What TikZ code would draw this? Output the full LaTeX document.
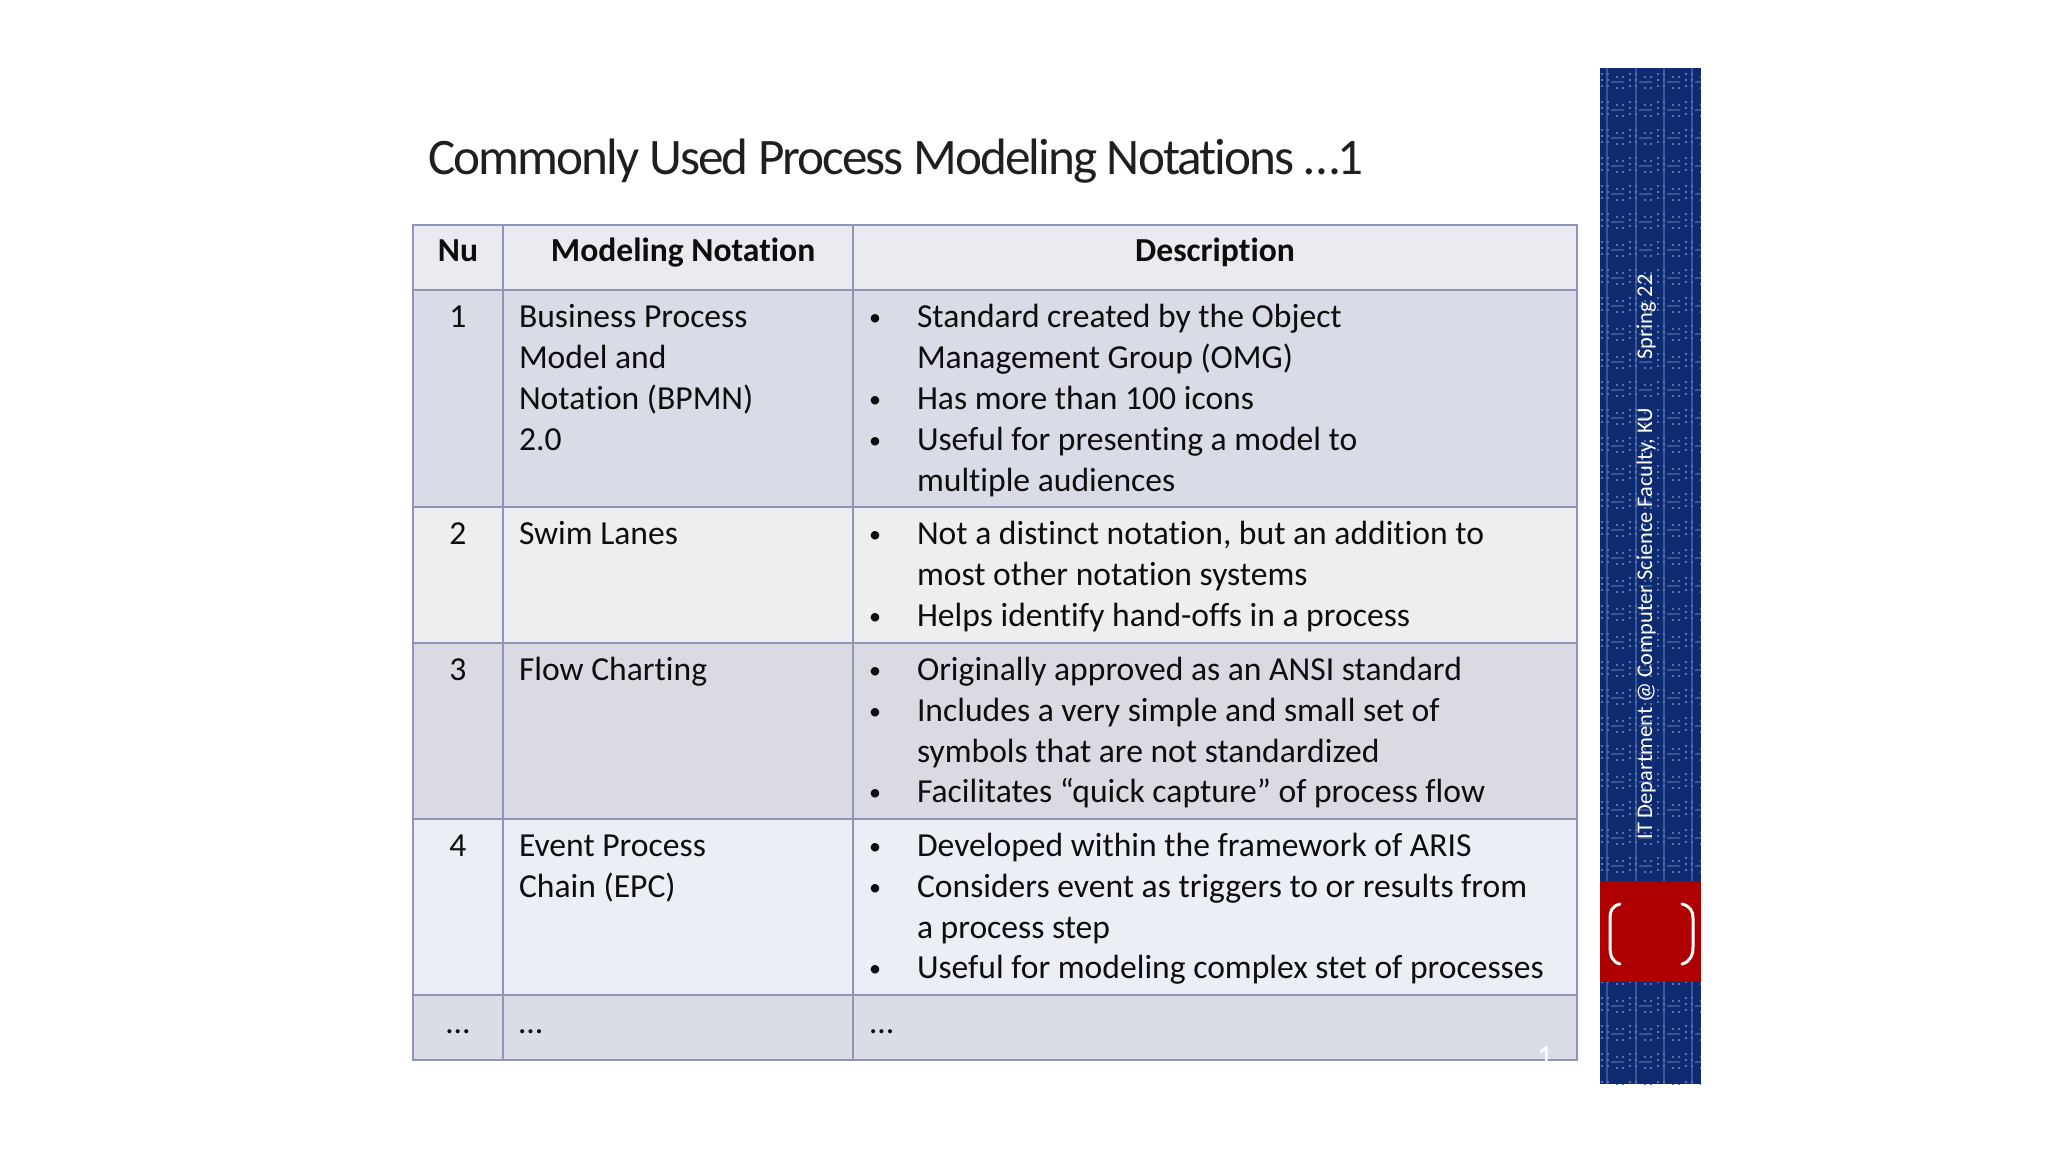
\documentclass[tikz,border=0pt]{standalone}
\usepackage{fontspec}
\setmainfont{Carlito}[Ligatures=NoCommon]
\newfontfamily\titlefont[LetterSpace=-3.85,Ligatures=NoCommon]{Carlito}
\definecolor{gridc}{HTML}{8F95B9}
\definecolor{hdr}{HTML}{E9EBF0}
\definecolor{rowa}{HTML}{D9DBE6}
\definecolor{rowb}{HTML}{ECEEF0}
\definecolor{rowc}{HTML}{DADBE2}
\definecolor{rowd}{HTML}{ECEEF5}
\definecolor{rowe}{HTML}{DADCE6}
\definecolor{navy}{HTML}{0E2A70}
\definecolor{navyl}{HTML}{5A74AC}
\definecolor{crim}{HTML}{AE0000}
\tikzset{
  x=0.5pt,y=-0.5pt,
  cell/.style={anchor=base west,inner sep=0pt,outer sep=0pt,font=\fontsize{16.8pt}{20pt}\selectfont,text=black!95},
  cellc/.style={cell,anchor=base},
  bulletmark/.style={cell,anchor=base,font=\fontsize{12pt}{14pt}\selectfont},
  head/.style={cellc,font=\fontsize{16.8pt}{20pt}\selectfont\bfseries},
  grid/.style={draw=gridc,line width=1.1pt},
  pat/.style={draw=navyl,line width=0.6pt}
}
\newcommand{\bul}[3]{\node (#1) [bulletmark] at (875,#2-2) {•}; \node (#1t) [cell] at (917,#2) {#3};}
\begin{document}
\begin{tikzpicture}
\useasboundingbox (0,0) rectangle (2048,1152);
\fill[white] (0,0) rectangle (2048,1152);
% table fills
\fill[hdr] (413,225) rectangle (1577,290);
\fill[rowa] (413,290) rectangle (1577,507);
\fill[rowb] (413,507) rectangle (1577,643);
\fill[rowc] (413,643) rectangle (1577,819);
\fill[rowd] (413,819) rectangle (1577,995);
\fill[rowe] (413,995) rectangle (1577,1061);
% table rules
\draw[grid] (413,225) rectangle (1577,1060);
\foreach \yy in {290,507,643,819,995} \draw[grid] (413,\yy) -- (1577,\yy);
\foreach \xx in {503,853} \draw[grid] (\xx,225) -- (\xx,1060);
% title
\node (title) [anchor=base west,inner sep=0pt,font=\fontsize{25.6pt}{30pt}\selectfont\titlefont,text=black!88] at (428,174) {Commonly Used Process Modeling Notations …1};
% header
\node (h1) [head] at (458,261) {Nu};
\node (h2) [head] at (683,261) {Modeling Notation};
\node (h3) [head] at (1215,261) {Description};
% column 1
\node (n1) [cellc] at (458,327) {1};
\node (n2) [cellc] at (458,544) {2};
\node (n3) [cellc] at (458,680) {3};
\node (n4) [cellc] at (458,856) {4};
\node (n5) [cellc] at (458,1033) {…};
% column 2
\node (m1a) [cell] at (519,327) {Business Process};
\node (m1b) [cell] at (519,368) {Model and};
\node (m1c) [cell] at (519,409) {Notation (BPMN)};
\node (m1d) [cell] at (519,450) {2.0};
\node (m2) [cell] at (519,544) {Swim Lanes};
\node (m3) [cell] at (519,680) {Flow Charting};
\node (m4a) [cell] at (519,856) {Event Process};
\node (m4b) [cell] at (519,897) {Chain (EPC)};
\node (m5) [cell] at (519,1033) {…};
% column 3
\bul{d1}{327}{Standard created by the Object}
\node (d1b) [cell] at (917,368) {Management Group (OMG)};
\bul{d2}{409}{Has more than 100 icons}
\bul{d3}{450}{Useful for presenting a model to}
\node (d3b) [cell] at (917,491) {multiple audiences};
\bul{d4}{544}{Not a distinct notation, but an addition to}
\node (d4b) [cell] at (917,585) {most other notation systems};
\bul{d5}{626}{Helps identify hand-offs in a process}
\bul{d6}{680}{Originally approved as an ANSI standard}
\bul{d7}{721}{Includes a very simple and small set of}
\node (d7b) [cell] at (917,762) {symbols that are not standardized};
\bul{d8}{802}{Facilitates “quick capture” of process flow}
\bul{d9}{856}{Developed within the framework of ARIS}
\bul{d10}{897}{Considers event as triggers to or results from}
\node (d10b) [cell] at (917,938) {a process step};
\bul{d11}{978}{Useful for modeling complex stet of processes}
\node (d12) [cell] at (870,1033) {…};
% side strip
\fill[navy] (1600,68) rectangle (1701,1084);
\begin{scope}
\clip (1600,68) rectangle (1701,1084);
\foreach \xx in {1607,1636,1664,1692} \draw[navyl,line width=0.6pt,opacity=.6] (\xx,68) -- (\xx,1084);
\foreach \ii in {0,...,36} {
  \pgfmathsetmacro{\ty}{74+28*\ii}
  \foreach \xx in {1600,1628,1656,1684} {
    \draw[pat,dash pattern=on 1.2pt off 1.6pt] (\xx+1,\ty) -- (\xx+11,\ty);
    \draw[pat,dash pattern=on 1.2pt off 1.6pt] (\xx+1,\ty+6) -- (\xx+11,\ty+6);
    \draw[pat,dash pattern=on 1.2pt off 1.6pt] (\xx+1,\ty+12) -- (\xx+11,\ty+12);
    \draw[pat,dash pattern=on 1.2pt off 1.6pt] (\xx+16,\ty+3) -- (\xx+24,\ty+3);
    \draw[pat,dash pattern=on 1.2pt off 1.6pt] (\xx+16,\ty+14) -- (\xx+24,\ty+14);
    \draw[pat,opacity=.6] (\xx+11,\ty+8) -- (\xx+24,\ty+8);
  }
}
\end{scope}
\fill[crim] (1600,881) rectangle (1701,982);
\draw[white,line width=1.5pt,line cap=round] (1620,904) .. controls (1612,906) and (1610,911) .. (1610,918) -- (1610,947) .. controls (1610,955) and (1612,962) .. (1620,964);
\draw[white,line width=1.5pt,line cap=round] (1682,904) .. controls (1690,906) and (1693,911) .. (1693,918) -- (1693,947) .. controls (1693,955) and (1690,962) .. (1682,964);
\node (side) [anchor=base west,rotate=90,inner sep=0pt,font=\fontsize{11.2pt}{13pt}\selectfont,text=white] at (1652,840) {IT Department @ Computer Science Faculty, KU};
\node (spring) [anchor=base west,rotate=90,inner sep=0pt,font=\fontsize{11.2pt}{13pt}\selectfont,text=white] at (1652,360) {Spring 22};
\node (pageno) [anchor=base,inner sep=0pt,font=\fontsize{16pt}{18pt}\selectfont,text=white] at (1545,1067) {1};
\end{tikzpicture}
\end{document}
